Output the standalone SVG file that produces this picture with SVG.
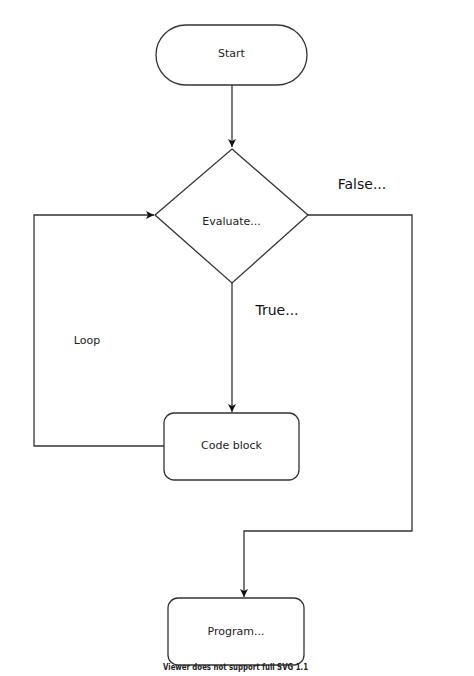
<svg xmlns="http://www.w3.org/2000/svg" width="474" height="676" viewBox="0 0 474 676">
<style>
.s{fill:#fff;stroke:#333;stroke-width:1.3}
.c{fill:none;stroke:#333;stroke-width:1.3}
.t{font-family:"DejaVu Sans",sans-serif;font-size:11px;fill:#222;text-anchor:middle}
.b{font-family:"DejaVu Sans",sans-serif;font-size:14px;fill:#111;text-anchor:middle}
</style>
<defs>
<marker id="a" markerWidth="10" markerHeight="10" refX="8" refY="4" orient="auto" markerUnits="userSpaceOnUse">
<path d="M0,0 L8,4 L0,8 L2,4 Z" fill="#111"/>
</marker>
</defs>
<rect width="474" height="676" fill="#fff"/>
<g id="connectors">
<path class="c" d="M232,85 V147" marker-end="url(#a)"/>
<path class="c" d="M232,283 V412" marker-end="url(#a)"/>
<path class="c" d="M308,215 H412 V531 H244 V597" marker-end="url(#a)"/>
<path class="c" d="M164,446 H34 V215 H154" marker-end="url(#a)"/>
</g>
<g id="start">
<rect class="s" x="156" y="25" width="151" height="60" rx="30" ry="30"/>
<text class="t" x="231.5" y="57">Start</text>
</g>
<g id="evaluate">
<path class="s" d="M232,149 L308,215 L232,283 L155,215 Z"/>
<text class="t" x="231.5" y="225">Evaluate...</text>
</g>
<g id="code">
<rect class="s" x="164" y="413" width="135" height="67" rx="10" ry="10"/>
<text class="t" x="231.5" y="449">Code block</text>
</g>
<g id="program">
<rect class="s" x="168" y="598" width="136" height="67" rx="10" ry="10"/>
<text class="t" x="236" y="635">Program...</text>
</g>
<g id="labels">
<text class="b" x="362" y="189">False...</text>
<text class="b" x="277" y="315">True...</text>
<text class="t" x="87" y="344">Loop</text>
</g>
<text x="163" y="670" textLength="145" lengthAdjust="spacingAndGlyphs" font-family="'DejaVu Sans Condensed','DejaVu Sans',sans-serif" font-size="9" font-weight="bold" fill="#222">Viewer does not support full SVG 1.1</text>
</svg>
